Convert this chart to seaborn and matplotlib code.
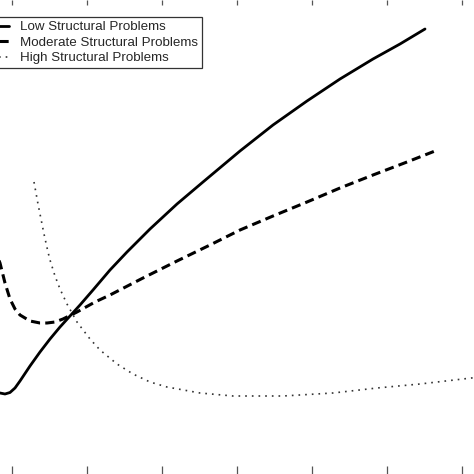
import seaborn as sns
import matplotlib.pyplot as plt
import pandas as pd

# x and y in arbitrary units (x ticks every 75 units)
low_x = [-17, -12, -7, -2, 3, 8, 18, 28, 38, 48, 58, 68, 81, 98, 115, 138, 165, 191,
         228, 261, 295, 328, 361, 388, 413]
low_y = [82, 81, 80, 81.5, 86, 93, 108, 122, 135, 147, 158, 169, 184, 204, 222, 245, 270, 292,
         323, 349, 373, 395, 415, 430, 445]

mod_x = [-14, -12, -7, -2, 3, 8, 18, 28, 35, 43, 51, 65, 83, 98, 131, 165, 198, 228,
         261, 295, 328, 361, 395, 423]
mod_y = [216, 211, 191, 175, 165, 159, 153, 151, 151, 152, 155, 162, 172, 179, 196, 213, 229, 244,
         258, 272, 286, 299, 312, 323]

high_x = [22, 24, 26, 28, 30, 32, 34, 36, 38, 43, 48, 55, 65, 78, 88, 105, 121, 138, 155,
          188, 221, 271, 321, 365, 408, 468]
high_y = [292, 281, 270, 260, 250, 240, 231, 222, 214, 198, 185, 170, 152, 135, 124, 110, 100, 92, 87,
          81, 78, 78, 81, 86, 90, 97]

labels = ["Low Structural Problems", "Moderate Structural Problems", "High Structural Problems"]
x_ticks = [0, 75, 150, 225, 300, 375, 450]


def main():
    sns.set_style("white")
    plt.rcParams['font.family'] = ['Liberation Sans', 'DejaVu Sans']

    fig = plt.figure(figsize=(4.74, 4.74), dpi=100)
    ax = fig.add_axes([0, 0, 1, 1])

    low = pd.DataFrame({"x": low_x, "y": low_y})
    mod = pd.DataFrame({"x": mod_x, "y": mod_y})
    high = pd.DataFrame({"x": high_x, "y": high_y})

    sns.lineplot(data=low, x="x", y="y", ax=ax, color="black", lw=2.0,
                 linestyle="-", label=labels[0])
    sns.lineplot(data=mod, x="x", y="y", ax=ax, color="black", lw=2.2,
                 linestyle=(0, (3, 1.7)), label=labels[1])
    sns.lineplot(data=high, x="x", y="y", ax=ax, color="#333333", lw=1.2,
                 linestyle=(0, (1, 3)), label=labels[2])

    ax.set_xlim(-12, 462)
    ax.set_ylim(0, 474)
    ax.set_xticks(x_ticks)
    ax.set_yticks([])
    ax.set_xlabel("")
    ax.set_ylabel("")
    for s in ax.spines.values():
        s.set_visible(False)
    ax.tick_params(axis="x", direction="in", length=5.8, width=0.9, color="#555555",
                   top=True, bottom=True, labelbottom=False, labeltop=False)
    for t in ax.xaxis.get_major_ticks():
        t.tick2line.set_markersize(3.6)

    leg = ax.legend(loc="upper right", bbox_to_anchor=(202 / 474, 1 - 17 / 474),
                    bbox_transform=fig.transFigure, borderaxespad=0, fancybox=False,
                    edgecolor="#333333", framealpha=1, fontsize=9.6, labelspacing=0.24,
                    handlelength=3, handletextpad=0.8, borderpad=0.3)
    leg.get_frame().set_linewidth(0.9)

    fig.savefig("out.png", dpi=100)


if __name__ == '__main__':
    main()
